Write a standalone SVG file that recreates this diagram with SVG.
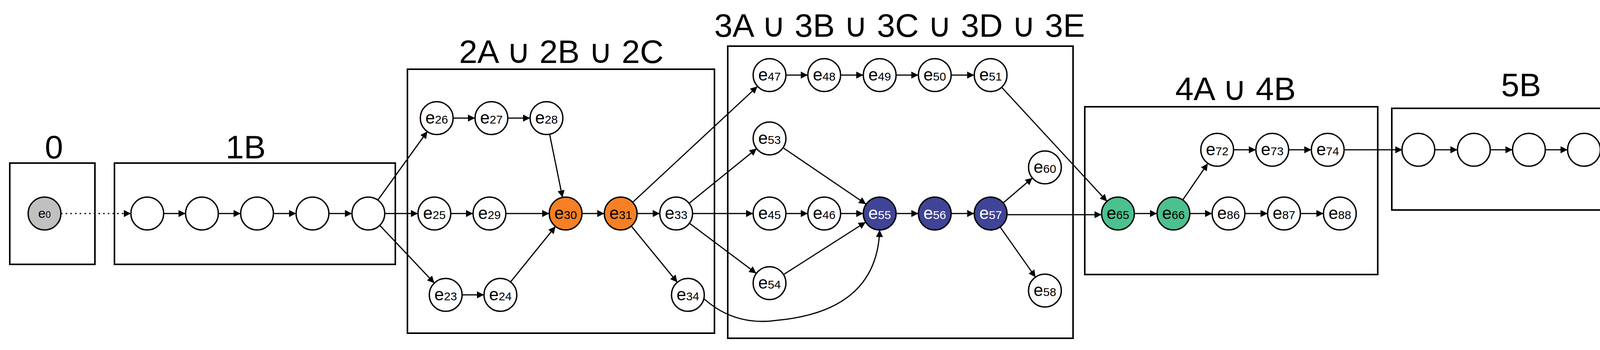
<svg xmlns="http://www.w3.org/2000/svg" width="4310" height="895" viewBox="0 0 4310 895">
<style>
.box{fill:none;stroke:#000;stroke-width:4}
.lbl{font-family:"Liberation Sans",Arial,sans-serif;font-size:84px;text-anchor:middle;fill:#000}
.n{fill:#fff;stroke:#000;stroke-width:3.5}
.or{fill:#F58025}.bl{fill:#404496}.gr{fill:#4CC08E}.gy{fill:#C0C0C0}
.t{font-family:"Liberation Sans",Arial,sans-serif;font-size:44px;text-anchor:middle;fill:#000}
.w{fill:#fff}
.s{font-size:30px}
.e{stroke:#000;stroke-width:3;fill:none;marker-end:url(#a)}
</style>
<defs><marker id="a" viewBox="0 0 10 10" refX="10" refY="5" markerWidth="22" markerHeight="18" markerUnits="userSpaceOnUse" orient="auto"><path d="M0,0L10,5L0,10z" fill="#000"/></marker></defs>
<g id="boxes">
<rect class="box" x="25" y="417" width="218" height="259"/><text class="lbl" x="138" y="405">0</text>
<rect class="box" x="293" y="417" width="719" height="259"/><text class="lbl" x="629" y="405">1B</text>
<rect class="box" x="1043" y="177" width="786" height="675"/><text class="lbl" x="1437" y="161">2A ∪ 2B ∪ 2C</text>
<rect class="box" x="1863" y="118" width="884" height="747"/><text class="lbl" x="2303" y="94">3A ∪ 3B ∪ 3C ∪ 3D ∪ 3E</text>
<rect class="box" x="2777" y="273" width="750" height="429"/><text class="lbl" x="3163" y="256">4A ∪ 4B</text>
<rect class="box" x="3563" y="277" width="717" height="260"/><text class="lbl" x="3894" y="246">5B</text>
</g>
<g id="connectors">
<line x1="156" y1="546" x2="335" y2="546" stroke="#000" stroke-width="3" stroke-dasharray="4,8" marker-end="url(#a)"/>
<line class="e" x1="419" y1="546" x2="475" y2="546"/>
<line class="e" x1="559" y1="546" x2="616" y2="546"/>
<line class="e" x1="700" y1="546" x2="758" y2="546"/>
<line class="e" x1="842" y1="546" x2="901" y2="546"/>
<line class="e" x1="967" y1="512" x2="1094" y2="336"/>
<line class="e" x1="985" y1="546" x2="1070" y2="546"/>
<line class="e" x1="972" y1="576" x2="1112" y2="724"/>
<line class="e" x1="1160" y1="302" x2="1216" y2="302"/>
<line class="e" x1="1300" y1="302" x2="1357" y2="302"/>
<line class="e" x1="1154" y1="546" x2="1211" y2="546"/>
<line class="e" x1="1295" y1="546" x2="1406" y2="546"/>
<line class="e" x1="1490" y1="546" x2="1547" y2="546"/>
<line class="e" x1="1631" y1="546" x2="1689" y2="546"/>
<line class="e" x1="1183" y1="754" x2="1239" y2="754"/>
<line class="e" x1="1407" y1="343" x2="1440" y2="505"/>
<line class="e" x1="1307" y1="721" x2="1422" y2="579"/>
<line class="e" x1="1620" y1="517" x2="1939" y2="221"/>
<line class="e" x1="1616" y1="578" x2="1734" y2="722"/>
<line class="e" x1="1764" y1="520" x2="1937" y2="380"/>
<line class="e" x1="1773" y1="546" x2="1928" y2="546"/>
<line class="e" x1="1765" y1="571" x2="1936" y2="699"/>
<line class="e" x1="2012" y1="192" x2="2068" y2="192"/>
<line class="e" x1="2152" y1="192" x2="2210" y2="192"/>
<line class="e" x1="2294" y1="192" x2="2351" y2="192"/>
<line class="e" x1="2435" y1="192" x2="2494" y2="192"/>
<line class="e" x1="2012" y1="546" x2="2068" y2="546"/>
<line class="e" x1="2152" y1="546" x2="2210" y2="546"/>
<line class="e" x1="2294" y1="546" x2="2351" y2="546"/>
<line class="e" x1="2435" y1="546" x2="2494" y2="546"/>
<line class="e" x1="2005" y1="378" x2="2217" y2="522"/>
<line class="e" x1="2006" y1="702" x2="2216" y2="568"/>
<path class="e" d="M1800,762 Q1880,835 1990,819 Q2245,795 2252,588"/>
<line class="e" x1="2568" y1="519" x2="2643" y2="455"/>
<line class="e" x1="2560" y1="580" x2="2651" y2="709"/>
<line class="e" x1="2578" y1="549" x2="2820" y2="549"/>
<line class="e" x1="2564" y1="223" x2="2834" y2="515"/>
<line class="e" x1="2904" y1="546" x2="2962" y2="546"/>
<line class="e" x1="3028" y1="511" x2="3092" y2="418"/>
<line class="e" x1="3046" y1="546" x2="3103" y2="546"/>
<line class="e" x1="3187" y1="546" x2="3245" y2="546"/>
<line class="e" x1="3329" y1="546" x2="3388" y2="546"/>
<line class="e" x1="3158" y1="383" x2="3215" y2="383"/>
<line class="e" x1="3299" y1="383" x2="3357" y2="383"/>
<line class="e" x1="3441" y1="383" x2="3590" y2="383"/>
<line class="e" x1="3673" y1="383" x2="3731" y2="383"/>
<line class="e" x1="3815" y1="383" x2="3872" y2="383"/>
<line class="e" x1="3956" y1="383" x2="4013" y2="383"/>
<line class="e" x1="4097" y1="383" x2="4157" y2="383"/>
</g>
<g id="e0"><circle class="n gy" cx="114" cy="546" r="42"/><text class="t" x="114" y="557" style="font-size:34px">e<tspan style="font-size:24px">0</tspan></text></g>
<g id="b1"><circle class="n" cx="377" cy="546" r="42"/></g>
<g id="b2"><circle class="n" cx="517" cy="546" r="42"/></g>
<g id="b3"><circle class="n" cx="658" cy="546" r="42"/></g>
<g id="b4"><circle class="n" cx="800" cy="546" r="42"/></g>
<g id="b5"><circle class="n" cx="943" cy="546" r="42"/></g>
<g id="e26"><circle class="n" cx="1118" cy="302" r="42"/><text class="t" x="1118" y="316">e<tspan class="s">26</tspan></text></g>
<g id="e27"><circle class="n" cx="1258" cy="302" r="42"/><text class="t" x="1258" y="316">e<tspan class="s">27</tspan></text></g>
<g id="e28"><circle class="n" cx="1399" cy="302" r="42"/><text class="t" x="1399" y="316">e<tspan class="s">28</tspan></text></g>
<g id="e25"><circle class="n" cx="1112" cy="546" r="42"/><text class="t" x="1112" y="560">e<tspan class="s">25</tspan></text></g>
<g id="e29"><circle class="n" cx="1253" cy="546" r="42"/><text class="t" x="1253" y="560">e<tspan class="s">29</tspan></text></g>
<g id="e30"><circle class="n or" cx="1448" cy="546" r="42"/><text class="t" x="1448" y="560">e<tspan class="s">30</tspan></text></g>
<g id="e31"><circle class="n or" cx="1589" cy="546" r="42"/><text class="t" x="1589" y="560">e<tspan class="s">31</tspan></text></g>
<g id="e33"><circle class="n" cx="1731" cy="546" r="42"/><text class="t" x="1731" y="560">e<tspan class="s">33</tspan></text></g>
<g id="e23"><circle class="n" cx="1141" cy="754" r="42"/><text class="t" x="1141" y="768">e<tspan class="s">23</tspan></text></g>
<g id="e24"><circle class="n" cx="1281" cy="754" r="42"/><text class="t" x="1281" y="768">e<tspan class="s">24</tspan></text></g>
<g id="e34"><circle class="n" cx="1761" cy="754" r="42"/><text class="t" x="1761" y="768">e<tspan class="s">34</tspan></text></g>
<g id="e47"><circle class="n" cx="1970" cy="192" r="42"/><text class="t" x="1970" y="206">e<tspan class="s">47</tspan></text></g>
<g id="e48"><circle class="n" cx="2110" cy="192" r="42"/><text class="t" x="2110" y="206">e<tspan class="s">48</tspan></text></g>
<g id="e49"><circle class="n" cx="2252" cy="192" r="42"/><text class="t" x="2252" y="206">e<tspan class="s">49</tspan></text></g>
<g id="e50"><circle class="n" cx="2393" cy="192" r="42"/><text class="t" x="2393" y="206">e<tspan class="s">50</tspan></text></g>
<g id="e51"><circle class="n" cx="2536" cy="192" r="42"/><text class="t" x="2536" y="206">e<tspan class="s">51</tspan></text></g>
<g id="e53"><circle class="n" cx="1970" cy="354" r="42"/><text class="t" x="1970" y="368">e<tspan class="s">53</tspan></text></g>
<g id="e45"><circle class="n" cx="1970" cy="546" r="42"/><text class="t" x="1970" y="560">e<tspan class="s">45</tspan></text></g>
<g id="e46"><circle class="n" cx="2110" cy="546" r="42"/><text class="t" x="2110" y="560">e<tspan class="s">46</tspan></text></g>
<g id="e55"><circle class="n bl" cx="2252" cy="546" r="42"/><text class="t w" x="2252" y="560">e<tspan class="s">55</tspan></text></g>
<g id="e56"><circle class="n bl" cx="2393" cy="546" r="42"/><text class="t w" x="2393" y="560">e<tspan class="s">56</tspan></text></g>
<g id="e57"><circle class="n bl" cx="2536" cy="546" r="42"/><text class="t w" x="2536" y="560">e<tspan class="s">57</tspan></text></g>
<g id="e54"><circle class="n" cx="1970" cy="724" r="42"/><text class="t" x="1970" y="738">e<tspan class="s">54</tspan></text></g>
<g id="e60"><circle class="n" cx="2675" cy="428" r="42"/><text class="t" x="2675" y="442">e<tspan class="s">60</tspan></text></g>
<g id="e58"><circle class="n" cx="2675" cy="743" r="42"/><text class="t" x="2675" y="757">e<tspan class="s">58</tspan></text></g>
<g id="e65"><circle class="n gr" cx="2862" cy="546" r="42"/><text class="t" x="2862" y="560">e<tspan class="s">65</tspan></text></g>
<g id="e66"><circle class="n gr" cx="3004" cy="546" r="42"/><text class="t" x="3004" y="560">e<tspan class="s">66</tspan></text></g>
<g id="e86"><circle class="n" cx="3145" cy="546" r="42"/><text class="t" x="3145" y="560">e<tspan class="s">86</tspan></text></g>
<g id="e87"><circle class="n" cx="3287" cy="546" r="42"/><text class="t" x="3287" y="560">e<tspan class="s">87</tspan></text></g>
<g id="e88"><circle class="n" cx="3430" cy="546" r="42"/><text class="t" x="3430" y="560">e<tspan class="s">88</tspan></text></g>
<g id="e72"><circle class="n" cx="3116" cy="383" r="42"/><text class="t" x="3116" y="397">e<tspan class="s">72</tspan></text></g>
<g id="e73"><circle class="n" cx="3257" cy="383" r="42"/><text class="t" x="3257" y="397">e<tspan class="s">73</tspan></text></g>
<g id="e74"><circle class="n" cx="3399" cy="383" r="42"/><text class="t" x="3399" y="397">e<tspan class="s">74</tspan></text></g>
<g id="c1"><circle class="n" cx="3631" cy="383" r="42"/></g>
<g id="c2"><circle class="n" cx="3773" cy="383" r="42"/></g>
<g id="c3"><circle class="n" cx="3914" cy="383" r="42"/></g>
<g id="c4"><circle class="n" cx="4055" cy="383" r="42"/></g>
<g id="c5"><circle class="n" cx="4199" cy="383" r="42"/></g>
</svg>
